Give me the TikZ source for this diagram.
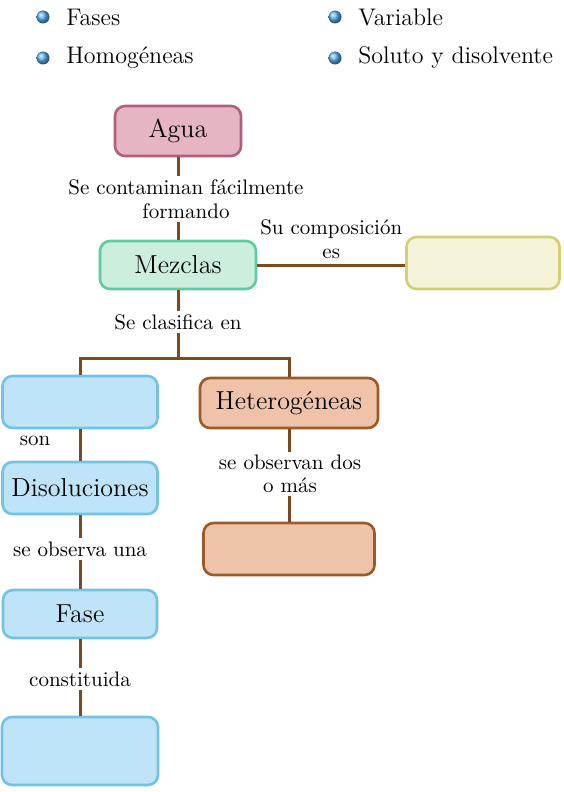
\documentclass[tikz,border=0pt]{standalone}
\usetikzlibrary{positioning,shadings}

\definecolor{aguafill}{HTML}{E6B5C4}
\definecolor{aguadraw}{HTML}{B0607A}
\definecolor{mezfill}{HTML}{CBEEDD}
\definecolor{mezdraw}{HTML}{5FCBA0}
\definecolor{yelfill}{HTML}{F4F3D8}
\definecolor{yeldraw}{HTML}{D3CF72}
\definecolor{blufill}{HTML}{BFE4F8}
\definecolor{bludraw}{HTML}{70C2E6}
\definecolor{orafill}{HTML}{EFC3A9}
\definecolor{oradraw}{HTML}{9C5A28}
\definecolor{linkbrown}{HTML}{7B4A1E}
\definecolor{bulletblue}{HTML}{5AB4F5}

\begin{document}
\begin{tikzpicture}[
    x=0.5pt, y=-0.5pt,
    box/.style={draw, rounded corners=5pt, line width=1.3pt, inner sep=2pt,
        minimum height=25pt, font=\fontsize{13}{15}\selectfont},
    aguabox/.style={box, draw=aguadraw, fill=aguafill},
    mezbox/.style={box, draw=mezdraw, fill=mezfill},
    yelbox/.style={box, draw=yeldraw, fill=yelfill},
    blubox/.style={box, draw=bludraw, fill=blufill},
    orabox/.style={box, draw=oradraw, fill=orafill},
    link/.style={line width=1.5pt, draw=linkbrown},
    lbl/.style={align=center, inner sep=1.5pt, font=\fontsize{10.5}{12}\selectfont},
    bullet/.style={circle, inner sep=0pt, minimum size=6.5pt, ball color=bulletblue},
    item/.style={inner sep=2pt, font=\fontsize{12}{14}\selectfont}
]
\useasboundingbox (0,0) rectangle (563,792);

% lista de palabras
\node[bullet] (b1) at (43,17) {};
\node[bullet] (b2) at (43,58) {};
\node[bullet] (b3) at (335,17) {};
\node[bullet] (b4) at (335,58) {};
\node[item, right=6pt of b1] (w1) {Fases};
\node[item, right=6pt of b2] (w2) {Homogéneas};
\node[item, right=6pt of b3] (w3) {Variable};
\node[item, right=6pt of b4] (w4) {Soluto y disolvente};

% cajas
\node[aguabox, minimum width=63pt] (agua) at (178,131) {Agua};
\node[mezbox, minimum width=78pt, minimum height=24pt] (mezclas) at (178,265) {Mezclas};
\node[yelbox, minimum width=76.5pt, minimum height=26pt] (variable) at (483,263) {};
\node[blubox, minimum width=77.5pt, minimum height=26pt] (homog) at (80,402) {};
\node[orabox, minimum width=89pt] (hetero) at (289,403) {Heterogéneas};
\node[blubox, minimum width=77.5pt, minimum height=26pt] (disol) at (80,488) {Disoluciones};
\node[orabox, minimum width=85.5pt, minimum height=26pt] (fases) at (289,549) {};
\node[blubox, minimum width=77pt, minimum height=24pt] (fase) at (80,614) {Fase};
\node[blubox, minimum width=78pt, minimum height=34pt] (soluto) at (80,751) {};

% textos de enlace
\node[lbl] (lcont) at (186,199) {Se contaminan fácilmente\\formando};
\node[lbl] (lclas) at (178,322) {Se clasifica en};
\node[lbl] (lson) at (35,441) {son};
\node[lbl, font=\fontsize{10.5}{11.5}\selectfont] (ldos) at (290,474) {se observan dos\\o más};
\node[lbl] (luna) at (80,549) {se observa una};
\node[lbl] (lconst) at (80,679) {constituida};
\coordinate (split) at (178,358);

% conexiones
\draw[link] (agua) -- (agua |- lcont.north);
\draw[link] (agua |- lcont.south) -- (mezclas);
\draw[link] (mezclas.east) -- node[lbl, above=1pt] {Su composición\\es} (variable.west |- mezclas);
\draw[link] (mezclas) -- (lclas);
\draw[link] (lclas) -- (split);
\draw[link] (split) -| (homog);
\draw[link] (split) -| (hetero);
\draw[link] (homog) -- (disol);
\draw[link] (hetero) -- (hetero |- ldos.north);
\draw[link] (hetero |- ldos.south) -- (fases);
\draw[link] (disol) -- (luna);
\draw[link] (luna) -- (fase);
\draw[link] (fase) -- (lconst);
\draw[link] (lconst) -- (soluto);

\end{tikzpicture}
\end{document}
